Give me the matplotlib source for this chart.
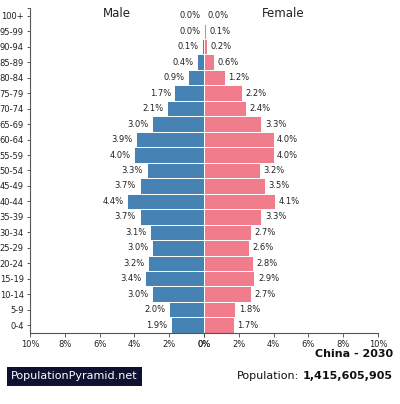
import matplotlib.pyplot as plt
from matplotlib.ticker import FixedLocator

# Data: China 2030, share of total population (%)
ages = ['0-4', '5-9', '10-14', '15-19', '20-24', '25-29', '30-34', '35-39',
        '40-44', '45-49', '50-54', '55-59', '60-64', '65-69', '70-74', '75-79',
        '80-84', '85-89', '90-94', '95-99', '100+']
male = [1.9, 2.0, 3.0, 3.4, 3.2, 3.0, 3.1, 3.7, 4.4, 3.7, 3.3, 4.0, 3.9, 3.0,
        2.1, 1.7, 0.9, 0.4, 0.1, 0.0, 0.0]
female = [1.7, 1.8, 2.7, 2.9, 2.8, 2.6, 2.7, 3.3, 4.1, 3.5, 3.2, 4.0, 4.0, 3.3,
          2.4, 2.2, 1.2, 0.6, 0.2, 0.1, 0.0]
xticks = [0, 2, 4, 6, 8, 10]

male_color = '#4682B4'
female_color = '#F07C8C'
text_color = '#222222'

fig = plt.figure(figsize=(4.0, 4.04), dpi=100)
ax_l = fig.add_axes([0.075, 0.176, 0.435, 0.804])
ax_r = fig.add_axes([0.51, 0.176, 0.435, 0.804])

y = list(range(len(ages)))

ax_l.barh(y, male, height=1.0, color=male_color, edgecolor='white', linewidth=0.7)
ax_r.barh(y, female, height=1.0, color=female_color, edgecolor='white', linewidth=0.7)

for i, v in enumerate(male):
    ax_l.text(v + 0.2, i, f'{v:.1f}%', ha='right', va='center', fontsize=6, color=text_color)
for i, v in enumerate(female):
    ax_r.text(v + 0.2, i, f'{v:.1f}%', ha='left', va='center', fontsize=6, color=text_color)

ax_l.set_xlim(10, 0)
ax_r.set_xlim(0, 10)
for ax in (ax_l, ax_r):
    ax.set_ylim(-0.5, 20.5)
    ax.xaxis.set_major_locator(FixedLocator(xticks))
    ax.set_xticklabels([f'{t}%' for t in xticks], fontsize=6, color=text_color)
    ax.tick_params(axis='x', length=3, width=0.6, pad=2, colors='#444444', labelcolor=text_color)
    ax.spines['top'].set_visible(False)
    ax.spines['right'].set_visible(False)
    ax.spines['bottom'].set_color('#555555')
    ax.spines['bottom'].set_linewidth(0.8)

ax_l.set_yticks(y)
ax_l.set_yticklabels(ages, fontsize=6, color=text_color)
ax_l.yaxis.set_minor_locator(FixedLocator([20.5]))
ax_l.tick_params(axis='y', which='both', length=2.5, width=0.6, pad=2, colors='#444444',
                 labelcolor=text_color)
ax_l.spines['left'].set_color('#555555')
ax_l.spines['left'].set_linewidth(0.8)

ax_r.set_yticks([])
ax_r.spines['left'].set_visible(False)

fig.text(0.293, 0.966, 'Male', ha='center', va='center', fontsize=8.5, color=text_color)
fig.text(0.708, 0.966, 'Female', ha='center', va='center', fontsize=8.5, color=text_color)

# footer
fig.text(0.028, 0.069, 'PopulationPyramid.net', ha='left', va='center', fontsize=8,
         color='white', bbox=dict(boxstyle='square,pad=0.4', fc='#0E1130', ec='none'))
fig.text(0.982, 0.124, 'China - 2030', ha='right', va='center', fontsize=8,
         fontweight='bold', color='#111111')
pop = fig.text(0.982, 0.069, '1,415,605,905', ha='right', va='center', fontsize=8,
               fontweight='bold', color='#111111')
fig.canvas.draw()
bb = pop.get_window_extent().transformed(fig.transFigure.inverted())
fig.text(bb.x0 - 0.008, 0.069, 'Population:', ha='right', va='center', fontsize=8,
         color='#111111')

fig.savefig('out.png', dpi=100)
